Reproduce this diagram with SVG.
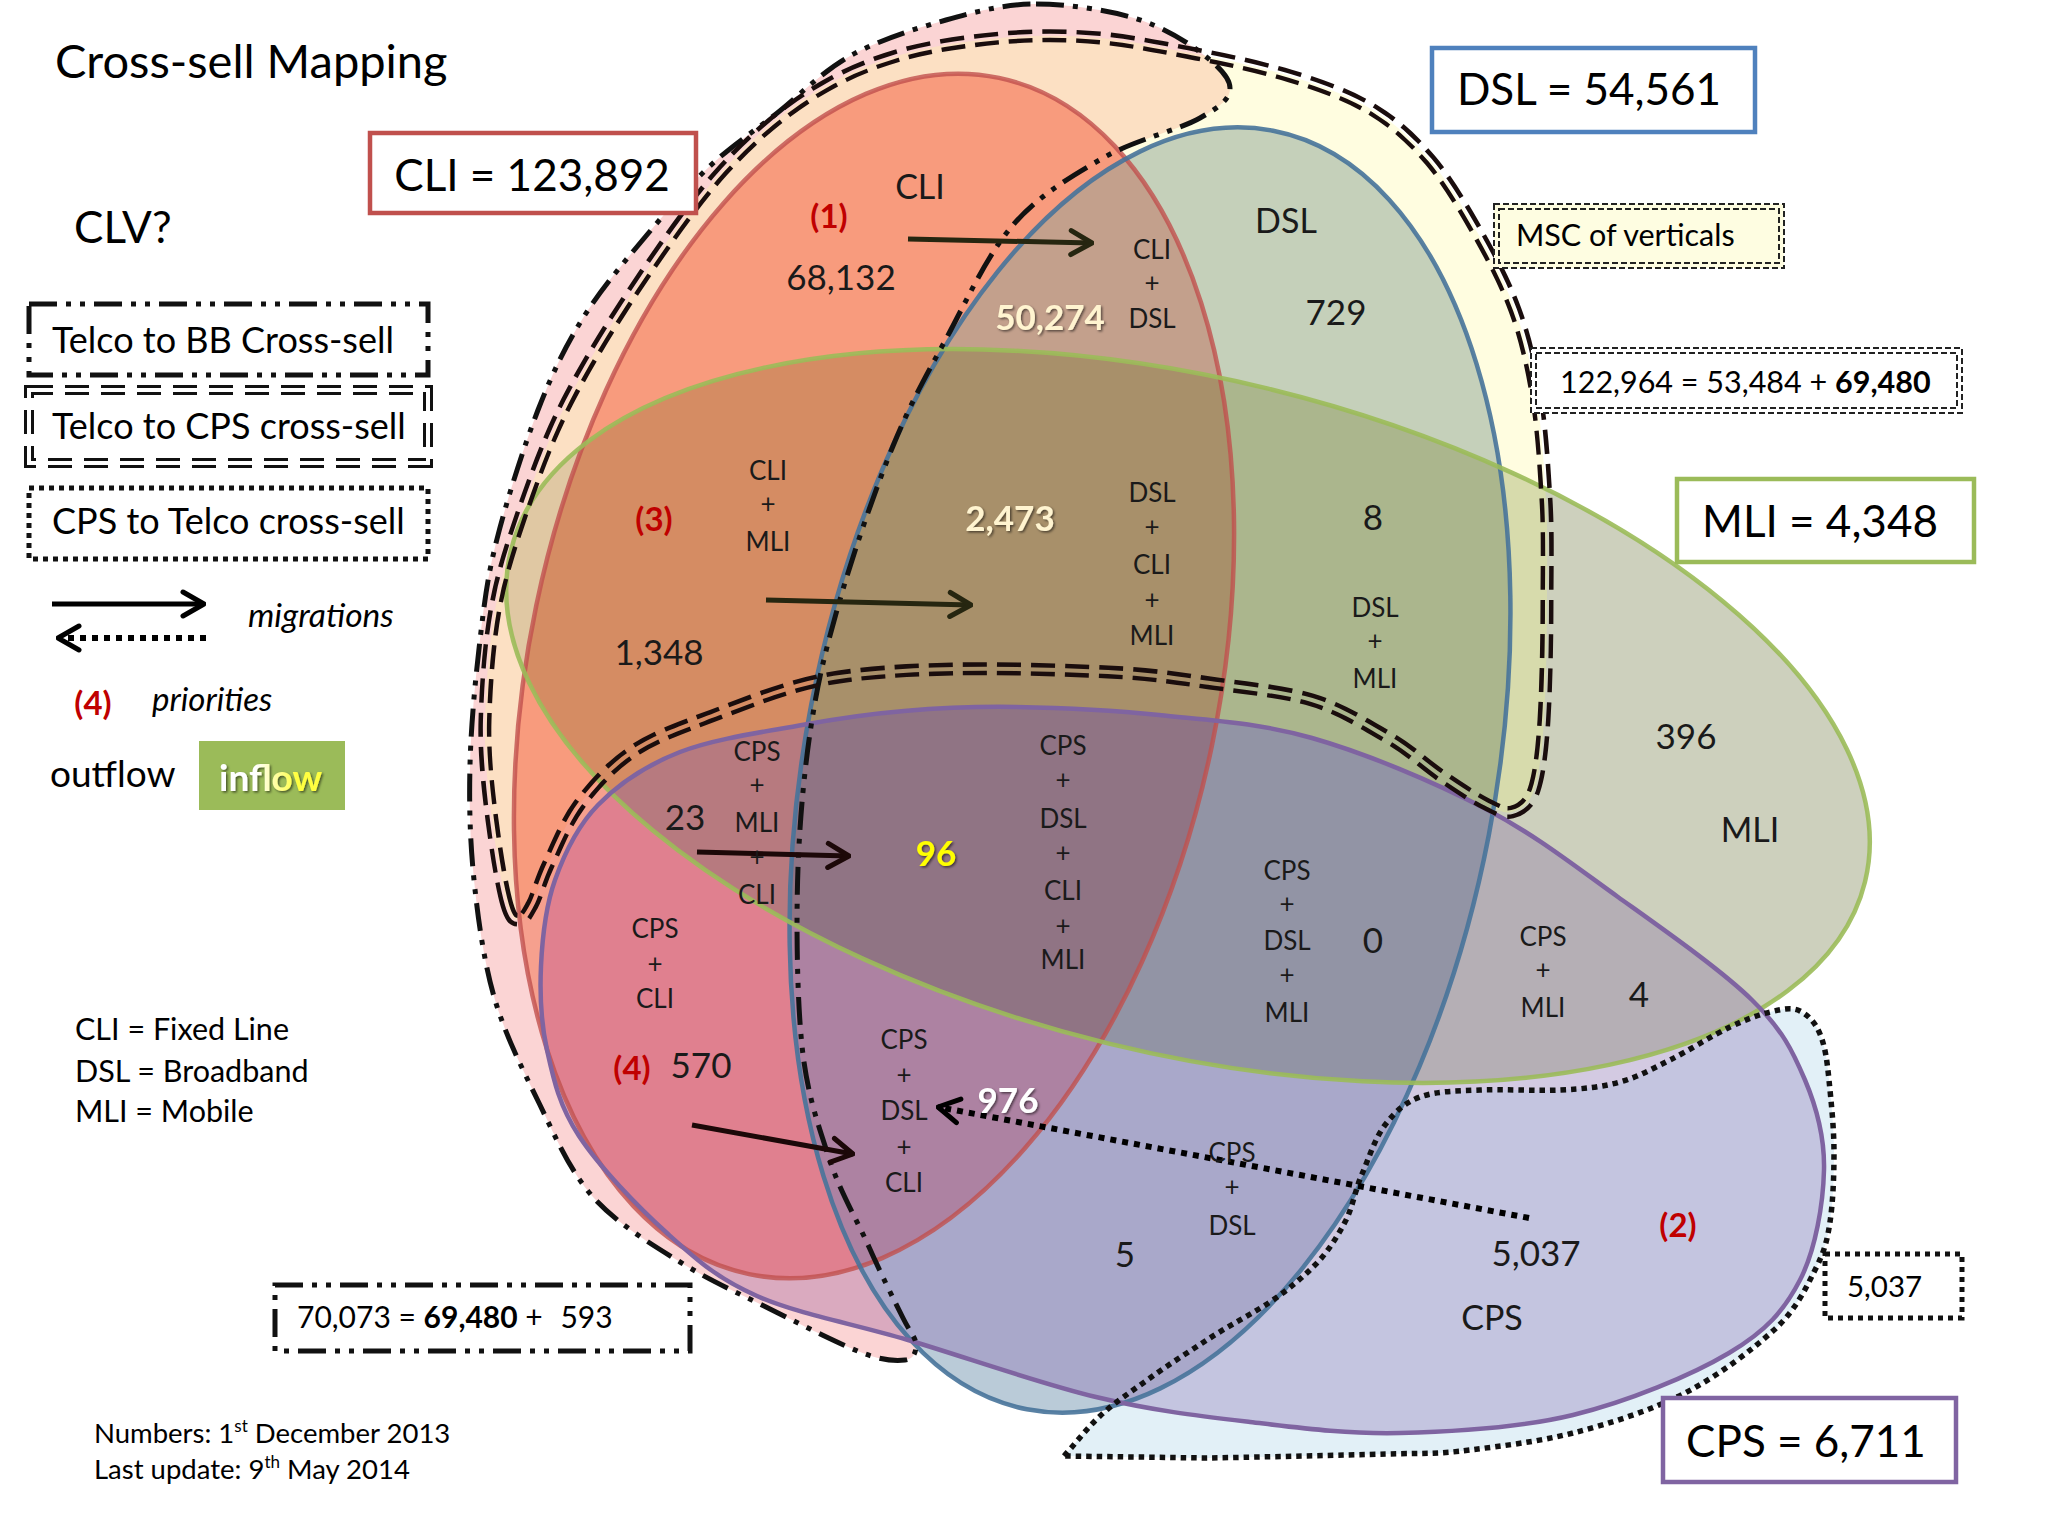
<svg xmlns="http://www.w3.org/2000/svg" width="2048" height="1536" viewBox="0 0 2048 1536">
<defs>
<style>
text{font-family:Lato,'Open Sans','Liberation Sans',sans-serif}
.lb{font-size:26px;fill:#1a1a1a;text-anchor:middle}
.nm{font-size:35px;fill:#1a1a1a;text-anchor:middle}
.bg{font-size:34px;fill:#1a1a1a;text-anchor:middle}
.pr{font-size:33px;fill:#C00000;font-weight:bold;text-anchor:middle}
.hb{font-size:35px;font-weight:bold;text-anchor:middle}
.big{font-size:44px;fill:#000;text-anchor:middle}
.leg{font-size:36px;fill:#000}
.ol{fill:none;stroke-width:4.5}
.arw{fill:none;stroke-width:5}
</style>
<filter id="sh" x="-20%" y="-20%" width="140%" height="140%"><feDropShadow dx="1.5" dy="1.5" stdDeviation="1" flood-color="#000" flood-opacity="0.55"/></filter>
<linearGradient id="gIn" x1="0" y1="0" x2="1" y2="0"><stop offset="0.35" stop-color="#ffffff"/><stop offset="0.75" stop-color="#FFFF40"/></linearGradient>
<ellipse id="eCLI" cx="0" cy="0" rx="345" ry="611" transform="translate(874,676) rotate(11.8)"/>
<ellipse id="eDSL" cx="0" cy="0" rx="345" ry="651" transform="translate(1150,770) rotate(10.9)"/>
<ellipse id="eMLI" cx="0" cy="0" rx="697" ry="337" transform="translate(1188,716) rotate(13.75)"/>
<path id="pCPS" d="M1016,707 C1058.5,707.7 1109.7,709.8 1159,715 S1257.8,722.5 1312,738 S1433,781.5 1484,808 S1573.3,865 1618,897 S1720.8,969.5 1752,1000 S1793,1051.7 1805,1080 S1824.8,1136.7 1824,1170 S1815.8,1249.5 1800,1280 S1766.8,1330.5 1729,1353 S1627.8,1401.7 1573,1415 S1453.8,1431.8 1400,1433 S1300.7,1428 1250,1422 S1153,1410.7 1096,1397 S964.5,1356.8 908,1340 S797,1313.7 757,1296 S697.7,1260.7 668,1234 S599.2,1166.7 579,1136 S553.3,1078.3 547,1050 S539.7,994.3 541,966 S545.5,906.8 555,880 S577.2,826.3 598,805 S646,765.3 680,752 S764.7,731.8 802,725 S868.3,714 904,711 S973.5,706.3 1016,707 Z"/>
<path id="pA" d="M1036,4 C1067,4 1107,10 1134,18 S1184,40 1200,52 S1230,77 1230,88 S1221,106 1200,118 S1134,140 1103,158 S1039,195 1013,225 S966,302 946,339 S911,402 893,446 S852,557 839,603 S819,676 812,720 S800,814 798,868 S797,998 802,1046 S818,1124 829,1158 S857,1220 869,1247 S895,1302 903,1318 S916,1338 916,1345 S914,1359 905,1360 S883,1361 860,1352 S796,1322 766,1307 S709,1280 680,1262 S616,1223 593,1197 S556,1138 540,1105 S506,1037 495,1000 S478,919 474,880 S469,805 470,765 S475.5,678 480,640 S487.3,577.3 497,539 S523.7,446.8 538,410 S565,347 583,318 S624.8,261.3 646,236 S688.3,186.3 710,166 S752.7,132.3 776,114 S821.7,71.7 850,56 S915,28.7 946,20 S1005,4 1036,4 Z"/>
<path id="pB" d="M507,905 C502,888 496,851 492,820 S484,755 485,720 S489,644 495,610 S510,548 522,513 S548,439 567,402 S608,329 634,290 S693,203 723,170 S782,113 812,94 S869,64 900,55 S967,41 1000,38 S1067,35 1100,38 S1164,48 1196,54 S1260,67 1290,76 S1350,96 1373,110 S1412,139 1430,160 S1466,212 1480,237 S1505,283 1515,310 S1532,368 1537,400 S1544,467 1546,500 S1547,563 1547,600 S1546,688 1544,720 S1539,775 1534,790 S1520,810 1512,812 S1498,810 1486,804 S1456,786 1440,775 S1410,750 1389,738 S1342,709 1312,700 S1244,688 1210,683 S1150,674 1108,672 S1003,668 955,669 S862,672 822,680 S744,704 712,716 S654,737 632,752 S593,786 579,805 S556,848 548,865 S537,896 532,905 S524,920 520,920 S512,922 507,905 Z"/>
<path id="pC" d="M1064,1456 C1076,1443 1086,1429 1100,1416 S1132,1391 1150,1378 S1190,1351 1210,1338 S1252,1314 1270,1302 S1302,1278 1315,1265 S1337,1237 1345,1222 S1355,1190 1362,1174 S1375,1138 1385,1125 S1404,1103 1420,1097 S1457,1091 1480,1090 S1537,1091 1560,1090 S1602,1087 1620,1082 S1652,1069 1670,1060 S1713,1035 1730,1027 S1758,1015 1770,1012 S1792,1007 1800,1011 S1815,1022 1820,1034 S1827,1060 1829,1080 S1834,1128 1834,1152 S1833,1202 1830,1222 S1824,1252 1815,1270 S1796,1310 1774,1330 S1718,1376 1685,1393 S1609,1424 1573,1433 S1501,1446 1470,1450 S1430,1453 1386,1454 S1267,1457 1207,1458 L1064,1456 Z"/>
<clipPath id="cCLI"><use href="#eCLI"/></clipPath>
<clipPath id="cDSL"><use href="#eDSL"/></clipPath>
<clipPath id="cMLI"><use href="#eMLI"/></clipPath>
<clipPath id="cCPS"><use href="#pCPS"/></clipPath>
<clipPath id="cA"><use href="#pA"/></clipPath>
<clipPath id="cB"><use href="#pB"/></clipPath>
<clipPath id="cC"><use href="#pC"/></clipPath>
<mask id="mB" maskUnits="userSpaceOnUse" x="0" y="0" width="2048" height="1536"><rect width="2048" height="1536" fill="#fff"/><use href="#pB" fill="none" stroke="#000" stroke-width="4"/></mask>
<mask id="mLeg" maskUnits="userSpaceOnUse" x="0" y="0" width="2048" height="1536"><rect width="2048" height="1536" fill="#fff"/><rect x="29" y="390" width="399" height="73" fill="none" stroke="#000" stroke-width="4"/></mask>
<marker id="hO" viewBox="0 0 26 30" refX="24" refY="15" markerWidth="26" markerHeight="30" markerUnits="userSpaceOnUse" orient="auto-start-reverse"><path d="M3,3 L24,15 L3,27" fill="none" stroke="#262610" stroke-width="5" stroke-linecap="round" stroke-linejoin="round"/></marker>
<marker id="hM" viewBox="0 0 26 30" refX="24" refY="15" markerWidth="26" markerHeight="30" markerUnits="userSpaceOnUse" orient="auto-start-reverse"><path d="M3,3 L24,15 L3,27" fill="none" stroke="#1C0808" stroke-width="5" stroke-linecap="round" stroke-linejoin="round"/></marker>
<marker id="hK" viewBox="0 0 26 30" refX="24" refY="15" markerWidth="26" markerHeight="30" markerUnits="userSpaceOnUse" orient="auto-start-reverse"><path d="M3,3 L24,15 L3,27" fill="none" stroke="#000" stroke-width="5" stroke-linecap="round" stroke-linejoin="round"/></marker>
</defs>
<rect width="2048" height="1536" fill="#fff"/>

<g id="zone-fills">
<use href="#pA" fill="#FBD4D4"/>
<use href="#pB" fill="#FFF9A1" fill-opacity="0.33"/>
<use href="#pC" fill="#E2F0F7"/>
</g>

<g id="venn-regions">
<use href="#eCLI" fill="#F6A08E"/>
<use href="#eDSL" fill="#BACBD8"/>
<use href="#eMLI" fill="#CDD0BD"/>
<use href="#pCPS" fill="#D3CAE2"/>
<g clip-path="url(#cB)"><use href="#eCLI" fill="#F89B7D"/></g>
<g clip-path="url(#cB)"><use href="#eDSL" fill="#C5D0BA"/></g>
<g clip-path="url(#cB)"><use href="#eMLI" fill="#D7DBAC"/></g>
<g clip-path="url(#cB)"><g clip-path="url(#cA)"><use href="#eMLI" fill="#E0C8A3"/></g></g>
<g clip-path="url(#cA)"><use href="#pCPS" fill="#DAAABF"/></g>
<g clip-path="url(#cC)"><use href="#pCPS" fill="#C4C5E0"/></g>
<g clip-path="url(#cDSL)"><use href="#eCLI" fill="#C3A08C"/></g>
<g clip-path="url(#cMLI)"><use href="#eCLI" fill="#D58C63"/></g>
<g clip-path="url(#cCPS)"><use href="#eCLI" fill="#E0808F"/></g>
<g clip-path="url(#cMLI)"><use href="#eDSL" fill="#ABB68D"/></g>
<g clip-path="url(#cCPS)"><use href="#eDSL" fill="#A9A8CA"/></g>
<g clip-path="url(#cCPS)"><use href="#eMLI" fill="#B5AFB5"/></g>
<g clip-path="url(#cDSL)"><g clip-path="url(#cMLI)"><use href="#eCLI" fill="#A8906A"/></g></g>
<g clip-path="url(#cDSL)"><g clip-path="url(#cCPS)"><use href="#eCLI" fill="#AD82A2"/></g></g>
<g clip-path="url(#cMLI)"><g clip-path="url(#cCPS)"><use href="#eCLI" fill="#B77A7F"/></g></g>
<g clip-path="url(#cMLI)"><g clip-path="url(#cCPS)"><use href="#eDSL" fill="#9294A5"/></g></g>
<g clip-path="url(#cDSL)"><g clip-path="url(#cMLI)"><g clip-path="url(#cCPS)"><use href="#eCLI" fill="#907484"/></g></g></g>
</g>

<g id="venn-outlines">
<use href="#eCLI" class="ol" stroke="#C0504D" stroke-opacity="0.8"/>
<use href="#eDSL" class="ol" stroke="#47739A" stroke-opacity="0.9"/>
<use href="#eMLI" class="ol" stroke="#9BBB59" stroke-opacity="0.9"/>
<use href="#pCPS" class="ol" stroke="#7F64A1"/>
</g>

<g id="zone-lines">
<use href="#pA" fill="none" stroke="#111" stroke-width="5" stroke-dasharray="28 9 5 9 5 9"/>
<g mask="url(#mB)"><use href="#pB" fill="none" stroke="#1a0d0d" stroke-width="13" stroke-dasharray="24 10"/></g>
<use href="#pC" fill="none" stroke="#111" stroke-width="5.5" stroke-dasharray="5.5 5"/>
</g>

<g id="connectors">
<line x1="908" y1="239" x2="1092" y2="243" class="arw" stroke="#262610" marker-end="url(#hO)"/>
<line x1="766" y1="600" x2="971" y2="605" class="arw" stroke="#262610" marker-end="url(#hO)"/>
<line x1="697" y1="852" x2="849" y2="856" class="arw" stroke="#1C0808" marker-end="url(#hM)"/>
<line x1="692" y1="1125" x2="853" y2="1154" class="arw" stroke="#1C0808" marker-end="url(#hM)"/>
<line x1="1529" y1="1218" x2="938" y2="1107" fill="none" stroke="#000" stroke-width="6" stroke-dasharray="6 6" marker-end="url(#hK)"/>
</g>

<g id="title"><text x="55" y="78" font-size="47" fill="#000">Cross-sell Mapping</text>
<text x="74" y="243" font-size="44" fill="#000">CLV?</text></g>

<g id="box-cli"><rect x="370" y="133" width="326" height="80" fill="#fff" stroke="#C0504D" stroke-width="4.5"/><text class="big" x="532" y="191">CLI = 123,892</text></g>
<g id="box-dsl"><rect x="1432" y="48" width="323" height="84" fill="#fff" stroke="#4F81BD" stroke-width="4.5"/><text class="big" x="1589" y="105">DSL = 54,561</text></g>
<g id="box-mli"><rect x="1677" y="479" width="297" height="83" fill="#fff" stroke="#9BBB59" stroke-width="4.5"/><text class="big" x="1820" y="537" font-size="45">MLI = 4,348</text></g>
<g id="box-cps"><rect x="1663" y="1398" width="293" height="84" fill="#fff" stroke="#8064A2" stroke-width="4.5"/><text class="big" x="1806" y="1457">CPS = 6,711</text></g>

<g id="box-msc"><rect x="1494" y="204" width="290" height="64" fill="#FEFDE1" stroke="#222" stroke-width="2" stroke-dasharray="6 3"/><rect x="1499" y="209" width="280" height="54" fill="none" stroke="#222" stroke-width="2" stroke-dasharray="6 3"/><text x="1516" y="246" font-size="30.5" fill="#000">MSC of verticals</text></g>
<g id="box-122964"><rect x="1531" y="348" width="431" height="65" fill="#fff" stroke="#222" stroke-width="2" stroke-dasharray="6 3"/><rect x="1536" y="353" width="421" height="55" fill="none" stroke="#222" stroke-width="2" stroke-dasharray="6 3"/><text x="1560" y="393" font-size="30.5" fill="#000">122,964 = 53,484 + <tspan font-weight="bold">69,480</tspan></text></g>
<g id="box-5037"><rect x="1825" y="1254" width="137" height="64" fill="#fff" stroke="#111" stroke-width="5" stroke-dasharray="5 5"/><text x="1847" y="1297" font-size="29.5" fill="#000">5,037</text></g>
<g id="box-70073"><rect x="275" y="1285" width="415" height="66" fill="#fff" stroke="#111" stroke-width="5" stroke-dasharray="28 9 5 9 5 9"/><text x="297" y="1328" font-size="30" fill="#000">70,073 = <tspan font-weight="bold">69,480</tspan> + <tspan dx="10">593</tspan></text></g>

<g id="legend">
<rect x="29" y="304" width="399" height="71" fill="#fff" stroke="#111" stroke-width="5" stroke-dasharray="28 9 5 9 5 9"/>
<text class="leg" x="52" y="353">Telco to BB Cross-sell</text>
<g mask="url(#mLeg)"><rect x="29" y="390" width="399" height="73" fill="none" stroke="#111" stroke-width="10" stroke-dasharray="24 12"/></g>
<text class="leg" x="52" y="439">Telco to CPS cross-sell</text>
<rect x="29" y="488" width="399" height="71" fill="#fff" stroke="#111" stroke-width="5" stroke-dasharray="5 5"/>
<text class="leg" x="52" y="534">CPS to Telco cross-sell</text>
<line x1="52" y1="604" x2="204" y2="604" class="arw" stroke="#000" marker-end="url(#hK)"/>
<line x1="206" y1="638" x2="58" y2="638" fill="none" stroke="#000" stroke-width="6" stroke-dasharray="6 6" marker-end="url(#hK)"/>
<text x="248" y="627" font-size="33.5" font-style="italic" fill="#000">migrations</text>
<text x="93" y="715" class="pr" font-size="32">(4)</text>
<text x="152" y="711" font-size="33" font-style="italic" fill="#000">priorities</text>
<text x="50" y="787" font-size="37" fill="#000">outflow</text>
<rect x="199" y="741" width="146" height="69" fill="#9BBB59"/>
<text x="219" y="791" font-size="37" font-weight="bold" fill="url(#gIn)" filter="url(#sh)">inflow</text>
<text x="75" y="1040" font-size="30.5" fill="#000">CLI = Fixed Line</text>
<text x="75" y="1082" font-size="30.5" fill="#000">DSL = Broadband</text>
<text x="75" y="1122" font-size="30.5" fill="#000">MLI = Mobile</text>
<text x="94" y="1443" font-size="27.5" fill="#000">Numbers: 1<tspan font-size="17" dy="-11">st</tspan><tspan dy="11"> December 2013</tspan></text>
<text x="94" y="1479" font-size="27.5" fill="#000">Last update: 9<tspan font-size="17" dy="-11">th</tspan><tspan dy="11"> May 2014</tspan></text>
</g>

<g id="node-cli">
<text class="bg" x="920" y="199" fill="#3B2416">CLI</text>
<text class="pr" x="829" y="228">(1)</text>
<text class="nm" x="841" y="290" fill="#7A2A14">68,132</text>
</g>
<g id="node-cli-dsl">
<text class="lb" fill="#2B2416"><tspan x="1152" y="259">CLI</tspan><tspan x="1152" y="292">+</tspan><tspan x="1152" y="328">DSL</tspan></text>
<text class="hb" x="1050" y="330" fill="#FFF4D0" filter="url(#sh)">50,274</text>
</g>
<g id="node-dsl">
<text class="bg" x="1286" y="233" fill="#2A3214">DSL</text>
<text class="nm" x="1336" y="325" fill="#2A3214">729</text>
</g>
<g id="node-cli-mli">
<text class="lb" fill="#3A2414"><tspan x="768" y="480">CLI</tspan><tspan x="768" y="513">+</tspan><tspan x="768" y="551">MLI</tspan></text>
<text class="pr" x="654" y="531">(3)</text>
<text class="nm" x="659" y="665" fill="#5B2C10">1,348</text>
</g>
<g id="node-cli-dsl-mli">
<text class="hb" x="1010" y="531" fill="#FFF4D0" filter="url(#sh)">2,473</text>
<text class="lb" fill="#2B2416"><tspan x="1152" y="502">DSL</tspan><tspan x="1152" y="536">+</tspan><tspan x="1152" y="574">CLI</tspan><tspan x="1152" y="609">+</tspan><tspan x="1152" y="645">MLI</tspan></text>
</g>
<g id="node-dsl-mli">
<text class="nm" x="1373" y="530" fill="#2A3214">8</text>
<text class="lb" fill="#2A3214"><tspan x="1375" y="617">DSL</tspan><tspan x="1375" y="650">+</tspan><tspan x="1375" y="688">MLI</tspan></text>
</g>
<g id="node-mli">
<text class="nm" x="1686" y="749">396</text>
<text class="bg" x="1750" y="842">MLI</text>
</g>
<g id="node-cps-mli-cli">
<text class="lb"><tspan x="757" y="761">CPS</tspan><tspan x="757" y="794">+</tspan><tspan x="757" y="832">MLI</tspan><tspan x="757" y="866">+</tspan><tspan x="757" y="904">CLI</tspan></text>
<text class="nm" x="685" y="830">23</text>
</g>
<g id="node-all">
<text class="hb" x="936" y="866" fill="#FFFF00" font-size="36" filter="url(#sh)">96</text>
<text class="lb"><tspan x="1063" y="755">CPS</tspan><tspan x="1063" y="789">+</tspan><tspan x="1063" y="828">DSL</tspan><tspan x="1063" y="862">+</tspan><tspan x="1063" y="900">CLI</tspan><tspan x="1063" y="935">+</tspan><tspan x="1063" y="969">MLI</tspan></text>
</g>
<g id="node-cps-dsl-mli">
<text class="lb"><tspan x="1287" y="880">CPS</tspan><tspan x="1287" y="913">+</tspan><tspan x="1287" y="950">DSL</tspan><tspan x="1287" y="984">+</tspan><tspan x="1287" y="1022">MLI</tspan></text>
<text class="nm" x="1373" y="953">0</text>
</g>
<g id="node-cps-mli">
<text class="lb"><tspan x="1543" y="946">CPS</tspan><tspan x="1543" y="979">+</tspan><tspan x="1543" y="1017">MLI</tspan></text>
<text class="nm" x="1639" y="1007">4</text>
</g>
<g id="node-cps-cli">
<text class="lb"><tspan x="655" y="938">CPS</tspan><tspan x="655" y="973">+</tspan><tspan x="655" y="1008">CLI</tspan></text>
<text class="pr" x="632" y="1080">(4)</text>
<text class="nm" x="701" y="1078">570</text>
</g>
<g id="node-cps-dsl-cli">
<text class="lb"><tspan x="904" y="1049">CPS</tspan><tspan x="904" y="1084">+</tspan><tspan x="904" y="1120">DSL</tspan><tspan x="904" y="1156">+</tspan><tspan x="904" y="1192">CLI</tspan></text>
<text class="hb" x="1008" y="1113" fill="#fff" font-size="34" filter="url(#sh)">976</text>
</g>
<g id="node-cps-dsl">
<text class="lb"><tspan x="1232" y="1162">CPS</tspan><tspan x="1232" y="1196">+</tspan><tspan x="1232" y="1235">DSL</tspan></text>
<text class="nm" x="1125" y="1267">5</text>
</g>
<g id="node-cps">
<text class="nm" x="1536" y="1266">5,037</text>
<text class="bg" x="1492" y="1330">CPS</text>
<text class="pr" x="1678" y="1237">(2)</text>
</g>
</svg>
